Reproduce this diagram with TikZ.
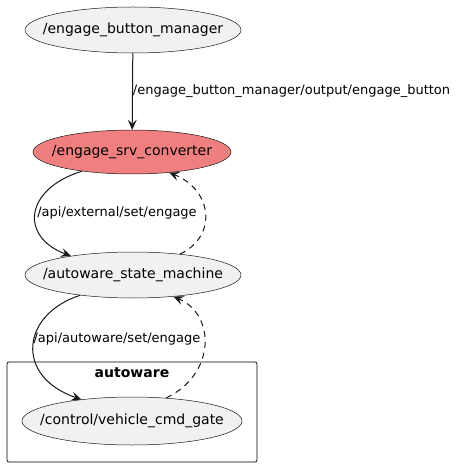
\documentclass[tikz,border=0pt]{standalone}
\usepackage{fontspec}
\setmainfont{DejaVu Sans}
\usetikzlibrary{arrows.meta,shapes.geometric}
\definecolor{nodefill}{HTML}{F1F1F1}
\definecolor{hotfill}{HTML}{F08080}
\definecolor{ink}{HTML}{181818}
\newcommand{\zb}[1]{\makebox[0pt]{#1}}
\tikzset{
  rosnode/.style={ellipse,draw=ink,line width=0.5bp,fill=nodefill,inner sep=0pt,
    font=\fontsize{14bp}{16bp}\selectfont,text=black},
  edgelbl/.style={font=\fontsize{13bp}{15bp}\selectfont,text=black,inner sep=1bp},
  conn/.style={draw=ink,line width=1bp,-{Stealth[length=10bp,width=9bp,inset=4bp]}},
  dashconn/.style={conn,dash pattern=on 6bp off 5bp},
  clusterbox/.style={draw=black,line width=0.7bp,rounded corners=2bp}
}
\begin{document}
\begin{tikzpicture}[x=1bp,y=-1bp]
\useasboundingbox[fill=white] (0,0) rectangle (457,467);
\draw[clusterbox] (7,362) rectangle (257,462);
\node[font=\bfseries\fontsize{14bp}{16bp}\selectfont] (cl) at (132,373) {autoware};

\node[rosnode,minimum width=216bp,minimum height=46bp] (bm) at (133,30) {\zb{/engage\_button\_manager}};
\node[rosnode,fill=hotfill,minimum width=198bp,minimum height=44bp] (srv) at (132,152) {\zb{/engage\_srv\_converter}};
\node[rosnode,minimum width=216bp,minimum height=46bp] (asm) at (133,275) {\zb{/autoware\_state\_machine}};
\node[rosnode,minimum width=220bp,minimum height=48bp] (vcg) at (132,421) {\zb{/control/vehicle\_cmd\_gate}};

\draw[conn] (bm) -- (srv) node[edgelbl,pos=0.5,anchor=west,xshift=-1bp] (l1) {/engage\_button\_manager/output/engage\_button};

\draw[conn] (srv.201) .. controls +(-58,18) and +(-51,-19) .. (asm.163);
\node[edgelbl] (l2) at (117,213) {/api/external/set/engage};
\draw[dashconn] (asm.24) .. controls +(38,-18) and +(43,17) .. (srv.331);

\draw[conn] (asm.201) .. controls +(-59,19) and +(-67,-23) .. (vcg.157);
\node[edgelbl] (l3) at (117,339) {/api/autoware/set/engage};
\draw[dashconn] (vcg.34) .. controls +(50,-24) and +(42,18) .. (asm.332);
\end{tikzpicture}
\end{document}
